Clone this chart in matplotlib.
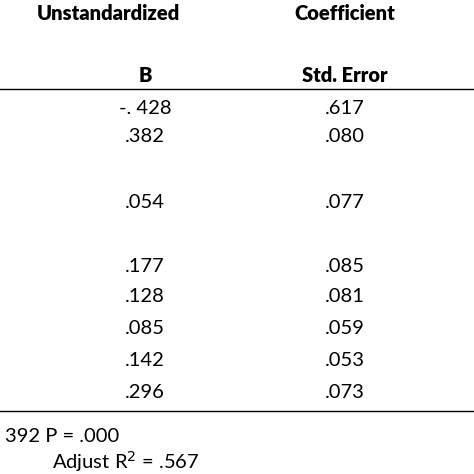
import matplotlib.pyplot as plt

col_b = ["-. 428", ".382", ".054", ".177", ".128", ".085", ".142", ".296"]
col_se = [".617", ".080", ".077", ".085", ".081", ".059", ".053", ".073"]
row_y = [108, 137, 202, 266, 297, 329, 360, 392]
footer = ["392 P = .000", "Adjust R$^2$ = .567"]

plt.rcParams['font.family'] = ['Lato', 'DejaVu Sans']

fig = plt.figure(figsize=(4.74, 4.74), dpi=100)
ax = fig.add_axes([0, 0, 1, 1])
ax.set_xlim(0, 474)
ax.set_ylim(474, 0)
ax.axis('off')

fs = 14.5
ax.text(108, 13, "Unstandardized", ha='center', va='center', fontsize=fs, fontweight='heavy')
ax.text(345, 13, "Coefficient", ha='center', va='center', fontsize=fs, fontweight='heavy')
ax.text(145, 75, "B", ha='center', va='center', fontsize=fs, fontweight='heavy')
ax.text(345, 75, "Std. Error", ha='center', va='center', fontsize=fs, fontweight='heavy')

ax.plot([0, 474], [89, 89], color='black', lw=1)
ax.plot([0, 474], [411, 411], color='black', lw=1)

for y, b, se in zip(row_y, col_b, col_se):
    ax.text(145, y, b, ha='center', va='center', fontsize=fs)
    ax.text(345, y, se, ha='center', va='center', fontsize=fs)

ax.text(5, 437, footer[0], ha='left', va='center', fontsize=fs)
ax.text(52, 462, footer[1], ha='left', va='center', fontsize=fs)

fig.savefig("out.png", dpi=100)
